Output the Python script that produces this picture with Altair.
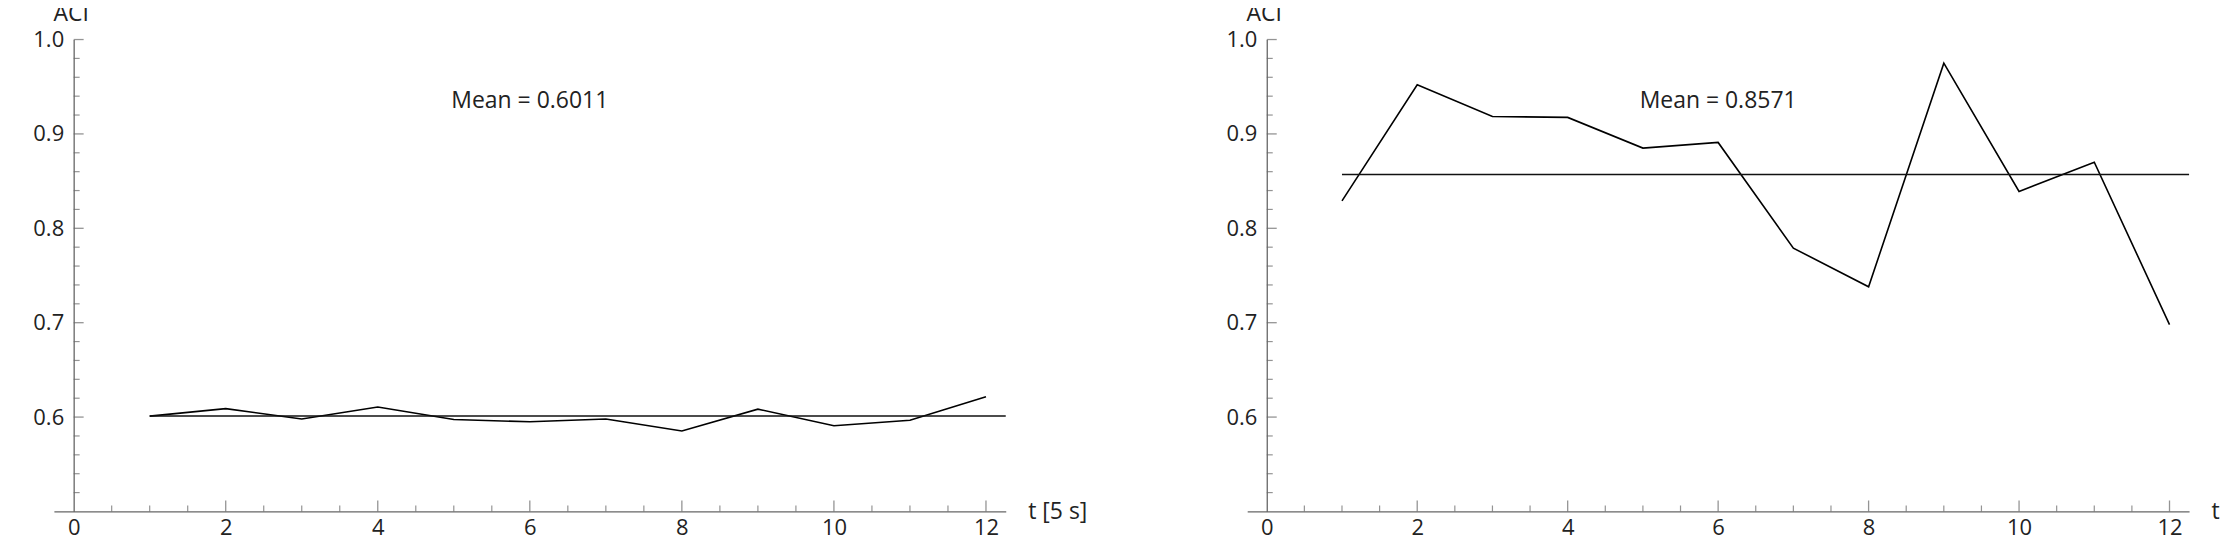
import altair as alt
import pandas as pd

# ---- data ----
t = [1, 2, 3, 4, 5, 6, 7, 8, 9, 10, 11, 12]
aci_left = [0.601, 0.609, 0.598, 0.6106, 0.5974, 0.595, 0.598, 0.5853, 0.6084, 0.5908, 0.5966, 0.6215]
aci_right = [0.829, 0.952, 0.9185, 0.9175, 0.885, 0.891, 0.779, 0.738, 0.975, 0.839, 0.870, 0.698]
mean_left = 0.6011
mean_right = 0.8571
mean_text_left = "Mean = 0.6011"
mean_text_right = "Mean = 0.8571"
x_titles = ["t [5 s]", "t"]

x_label_values = [0, 2, 4, 6, 8, 10, 12]
x_minor_values = [0.5, 1, 1.5, 2.5, 3, 3.5, 4.5, 5, 5.5, 6.5, 7, 7.5, 8.5, 9, 9.5,
                  10.5, 11, 11.5]
x_major_values = [2, 4, 6, 8, 10, 12]
y_label_values = [0.6, 0.7, 0.8, 0.9, 1.0]
y_minor_values = [0.52, 0.54, 0.56, 0.58, 0.62, 0.64, 0.66, 0.68, 0.72, 0.74, 0.76, 0.78,
                  0.82, 0.84, 0.86, 0.88, 0.92, 0.94, 0.96, 0.98]

XMIN, XMAX = -0.26, 12.26
YMIN, YMAX = 0.5, 1.0
TEXT_X, TEXT_Y = 6, 0.935

FONT = "Open Sans"
AXIS_GRAY = "#666666"
TEXT_COLOR = "#222222"


def panel(vals, mean, mean_text, xtitle, width, height):
    xs = alt.Scale(domain=[XMIN, XMAX], nice=False, zero=False)
    ys = alt.Scale(domain=[YMIN, YMAX], nice=False, zero=False)
    yoff = -width * (0 - XMIN) / (XMAX - XMIN)

    xax = alt.Axis(values=x_label_values, format="d", ticks=False, tickSize=0,
                   grid=False, labelPadding=6, labelFontSize=22,
                   domainColor=AXIS_GRAY, domainWidth=1.3,
                   title=xtitle, titleAngle=0, titleX=width + 22, titleY=0,
                   titleAlign="left", titleBaseline="middle",
                   titleFontSize=23, titleFontWeight="normal")
    yax = alt.Axis(values=y_label_values, format=".1f", ticks=False, tickSize=0,
                   grid=False, labelPadding=10, labelFontSize=22,
                   offset=yoff, domainColor=AXIS_GRAY, domainWidth=1.3,
                   title="ACI", titleAngle=0, titleX=-3, titleY=-26,
                   titleAlign="center", titleBaseline="middle",
                   titleFontSize=23, titleFontWeight="normal")

    df = pd.DataFrame({"t": t, "aci": vals})
    line = alt.Chart(df).mark_line(color="black", strokeWidth=1.6).encode(
        x=alt.X("t:Q", scale=xs, axis=xax),
        y=alt.Y("aci:Q", scale=ys, axis=yax),
    )

    mdf = pd.DataFrame({"x": [1], "x2": [XMAX], "m": [mean]})
    mline = alt.Chart(mdf).mark_rule(color="#111111", strokeWidth=1.5).encode(
        x=alt.X("x:Q", scale=xs, axis=xax),
        x2="x2:Q",
        y=alt.Y("m:Q", scale=ys, axis=yax),
    )

    tdf = pd.DataFrame({"x": [TEXT_X], "y": [TEXT_Y], "label": [mean_text]})
    txt = alt.Chart(tdf).mark_text(font=FONT, fontSize=23, color=TEXT_COLOR,
                                   align="center", baseline="middle").encode(
        x=alt.X("x:Q", scale=xs, axis=xax),
        y=alt.Y("y:Q", scale=ys, axis=yax),
        text="label:N",
    )

    ymaj = alt.Chart(pd.DataFrame({"v": y_label_values})).mark_tick(
        orient="horizontal", size=10, thickness=1.3, color=AXIS_GRAY, xOffset=5).encode(
        x=alt.XDatum(0, type="quantitative", scale=xs, axis=xax),
        y=alt.Y("v:Q", scale=ys, axis=yax),
    )
    ymin = alt.Chart(pd.DataFrame({"v": y_minor_values})).mark_tick(
        orient="horizontal", size=6, thickness=1.2, color=AXIS_GRAY, xOffset=3).encode(
        x=alt.XDatum(0, type="quantitative", scale=xs, axis=xax),
        y=alt.Y("v:Q", scale=ys, axis=yax),
    )
    xmaj = alt.Chart(pd.DataFrame({"v": x_major_values})).mark_tick(
        orient="vertical", size=11, thickness=1.3, color=AXIS_GRAY, yOffset=-5.5).encode(
        x=alt.X("v:Q", scale=xs, axis=xax),
        y=alt.YDatum(YMIN, type="quantitative", scale=ys, axis=yax),
    )
    xmin = alt.Chart(pd.DataFrame({"v": x_minor_values})).mark_tick(
        orient="vertical", size=6, thickness=1.2, color=AXIS_GRAY, yOffset=-3).encode(
        x=alt.X("v:Q", scale=xs, axis=xax),
        y=alt.YDatum(YMIN, type="quantitative", scale=ys, axis=yax),
    )

    return alt.layer(line, mline, txt, ymaj, ymin, xmaj, xmin).properties(
        width=width, height=height)


left = panel(aci_left, mean_left, mean_text_left, x_titles[0], 954, 473)
right = panel(aci_right, mean_right, mean_text_right, x_titles[1], 944, 473)

chart = alt.hconcat(left, right, spacing=138).properties(
    padding={"top": -6, "left": 24, "right": 0, "bottom": 4}
).configure_view(stroke=None).configure_axis(
    labelFont=FONT, titleFont=FONT, labelColor=TEXT_COLOR, titleColor=TEXT_COLOR
)

chart.save("out.html", embed_options={"renderer": "svg", "actions": False})
